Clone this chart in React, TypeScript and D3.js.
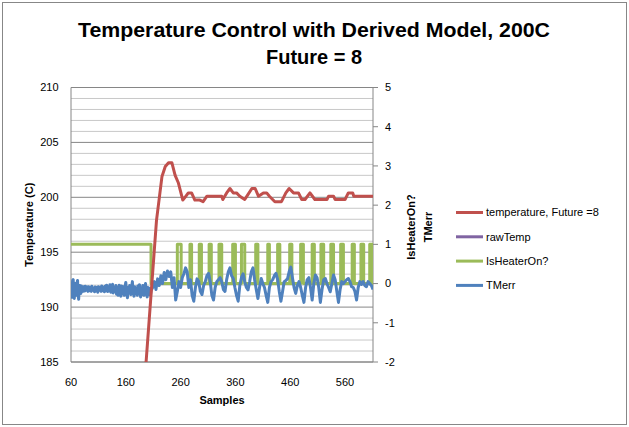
import React from 'react';
import * as d3 from 'd3';

// temperature, Future = 8 : [sample, degC] (left axis)
const temperature: [number, number][] = [
  [186, 181], [197, 185], [216, 197.9], [226, 201.9], [232, 202.8], [238, 203.15],
  [244, 203.15], [250, 202.0], [256, 201.3], [264, 199.75], [268, 200.0], [274, 200.4],
  [280, 200.4], [286, 199.75], [295, 199.75], [301, 199.6], [308, 200.1], [335, 200.1],
  [337, 199.8], [344, 200.4], [350, 200.8], [356, 200.4], [362, 200.4], [368, 200.1],
  [377, 199.8], [381, 200.1], [390, 200.8], [396, 200.8], [402, 200.1], [411, 200.4],
  [417, 200.4], [422, 200.1], [432, 199.6], [444, 199.6], [452, 200.4], [458, 200.8],
  [466, 200.4], [475, 200.4], [481, 199.8], [487, 199.8], [496, 200.4], [505, 199.8],
  [527, 199.8], [530, 200.1], [539, 200.1], [542, 199.8], [560, 199.8], [566, 200.4],
  [574, 200.4], [576, 200.1], [611, 200.1],
];

// IsHeaterOn? : [sample, state] at every switch (right axis)
const heaterSteps: [number, number][] = [
  [60, 1], [206, 0], [254, 1], [261, 0], [277, 1], [280, 0], [294, 1], [298, 0],
  [312, 1], [316, 0], [330, 1], [335, 0], [355, 1], [360, 0], [371, 1], [377, 0],
  [397, 1], [401, 0], [419, 1], [422, 0], [437, 1], [441, 0], [459, 1], [463, 0],
  [479, 1], [484, 0], [500, 1], [504, 0], [516, 1], [521, 0], [534, 1], [539, 0],
  [552, 1], [557, 0], [573, 1], [577, 0], [589, 1], [594, 0], [605, 1], [610, 0], [611, 0],
];

// TMerr : [sample, error] (right axis)
const tmErr: [number, number][] = [
  [60, 0.05], [61, -0.3], [62, -0.35], [63, 0.08], [64, 0.1], [65, -0.2], [66, -0.38],
  [67, -0.1], [68, 0.0], [69, -0.25], [70, -0.3], [71, 0.02], [72, 0.08], [73, -0.3],
  [74, -0.4], [75, -0.1], [76, -0.05], [77, -0.22], [78, -0.25], [79, -0.06], [80, -0.1],
  [82, -0.2], [83, -0.08], [85, -0.19], [86, -0.07], [88, -0.17], [89, -0.09], [91, -0.2],
  [92, -0.08], [94, -0.18], [95, -0.1], [97, -0.2], [98, -0.07], [100, -0.17], [101, -0.11],
  [103, -0.21], [104, -0.09], [106, -0.19], [107, -0.1], [109, -0.22], [110, -0.08],
  [112, -0.17], [113, -0.1], [115, -0.2], [116, -0.06], [118, -0.18], [119, -0.1],
  [121, -0.21], [122, -0.07], [124, -0.18], [125, -0.04], [127, -0.2], [128, -0.08],
  [130, -0.19], [131, -0.03], [133, -0.22], [134, -0.1], [136, -0.02], [137, -0.24],
  [139, -0.12], [140, -0.2], [142, -0.05], [143, -0.27], [145, -0.1], [146, -0.3],
  [148, -0.04], [149, -0.2], [151, -0.32], [152, -0.06], [154, -0.25], [155, -0.08],
  [157, -0.3], [158, -0.12], [160, 0.03], [161, -0.2], [163, -0.36], [164, -0.1],
  [166, -0.22], [167, -0.05], [169, -0.28], [170, -0.14], [172, 0.05], [173, -0.2],
  [175, -0.32], [176, -0.08], [178, -0.26], [179, -0.12], [181, -0.3], [182, -0.06],
  [184, -0.2], [185, -0.03], [187, -0.34], [188, -0.12], [190, -0.28], [191, -0.05],
  [193, -0.3], [194, -0.14], [196, 0.0], [197, -0.22], [199, -0.34], [200, -0.1],
  [202, -0.28], [203, -0.12], [205, -0.3], [206, -0.18], [209, -0.1], [212, 0.05],
  [215, -0.15], [218, 0.12], [221, -0.05], [224, 0.2], [227, 0.0], [230, 0.28],
  [233, 0.1], [236, 0.32], [239, 0.18], [242, 0.3], [245, -0.1], [248, 0.15],
  [251, -0.42], [254, -0.2], [257, 0.05], [260, -0.1], [263, 0.15], [266, 0.25],
  [269, 0.4], [272, 0.3], [275, -0.1], [278, 0.1], [281, -0.3], [284, -0.45],
  [287, -0.1], [290, 0.12], [293, 0.05], [296, -0.2], [299, -0.28], [302, -0.05],
  [305, 0.05], [308, 0.2], [311, 0.26], [314, 0.05], [317, -0.3], [320, -0.42],
  [323, -0.1], [326, 0.05], [329, 0.1], [332, 0.15], [335, 0.05], [338, -0.15],
  [341, -0.2], [344, 0.1], [347, 0.3], [350, 0.4], [353, 0.2], [356, 0.13], [359, -0.1],
  [362, -0.3], [365, -0.45], [368, -0.05], [371, 0.15], [374, 0.25], [377, 0.05],
  [380, -0.1], [383, -0.16], [386, 0.05], [389, 0.3], [392, 0.4], [395, 0.1],
  [398, -0.15], [401, -0.38], [404, -0.1], [407, 0.13], [410, 0.0], [413, -0.1],
  [416, -0.3], [419, -0.48], [422, -0.1], [425, 0.05], [428, 0.1], [431, 0.2],
  [434, 0.26], [437, 0.1], [440, -0.2], [443, -0.45], [446, -0.2], [449, 0.05],
  [452, 0.08], [455, 0.12], [458, 0.3], [461, 0.42], [464, 0.15], [467, -0.1],
  [470, -0.25], [473, -0.05], [476, 0.05], [479, -0.1], [482, -0.3], [485, -0.48],
  [488, -0.1], [491, 0.1], [494, 0.15], [497, -0.1], [500, -0.42], [503, 0.0],
  [506, 0.22], [509, 0.15], [512, -0.1], [515, -0.48], [518, -0.15], [521, 0.1],
  [524, 0.13], [527, 0.0], [530, -0.1], [533, -0.21], [536, 0.0], [539, 0.22],
  [542, 0.1], [545, -0.2], [548, -0.48], [551, -0.15], [554, 0.05], [557, 0.0],
  [560, 0.05], [563, 0.1], [566, 0.13], [569, 0.05], [572, -0.08], [575, -0.1],
  [578, -0.2], [581, -0.42], [584, -0.1], [587, 0.05], [590, -0.02], [593, 0.05],
  [596, -0.05], [599, -0.08], [602, 0.05], [605, 0.0], [608, -0.05], [611, -0.15],
];

const xTicks = [60, 160, 260, 360, 460, 560];
const leftTicks = [185, 190, 195, 200, 205, 210];
const leftMinor = d3.range(185, 211, 1);
const rightTicks = [-2, -1, 0, 1, 2, 3, 4, 5];
const legendItems = [
  { name: 'temperature, Future =8', color: '#C0504D' },
  { name: 'rawTemp', color: '#8064A2' },
  { name: 'IsHeaterOn?', color: '#9BBB59' },
  { name: 'TMerr', color: '#4F81BD' },
];

const W = 629;
const H = 427;
const plot = { left: 71, right: 373, top: 87.5, bottom: 362 };
const font = '"Liberation Sans", Arial, sans-serif';

export default function App() {
  const x = d3.scaleLinear().domain([60, 611]).range([plot.left, plot.right]);
  const yL = d3.scaleLinear().domain([185, 210]).range([plot.bottom, plot.top]);
  const yR = d3.scaleLinear().domain([-2, 5]).range([plot.bottom, plot.top]);

  const tempLine = d3.line<[number, number]>().x(d => x(d[0])).y(d => yL(d[1]));
  const heaterLine = d3.line<[number, number]>().x(d => x(d[0])).y(d => yR(d[1])).curve(d3.curveStepAfter);
  const errLine = d3.line<[number, number]>().x(d => x(d[0])).y(d => yR(d[1]));

  return (
    <svg width={W} height={H} style={{ position: 'absolute', left: 0, top: 0, background: '#fff' }} fontFamily={font}>
      <defs>
        <clipPath id="plotClip">
          <rect x={plot.left} y={plot.top} width={plot.right - plot.left} height={plot.bottom - plot.top} />
        </clipPath>
      </defs>
      <rect x={2.5} y={2.5} width={W - 5} height={H - 5} fill="#fff" stroke="#878787" />

      <text x={314} y={37} textAnchor="middle" fontSize={20} fontWeight="bold" textLength={472} lengthAdjust="spacingAndGlyphs">
        Temperature Control with Derived Model, 200C
      </text>
      <text x={314} y={64} textAnchor="middle" fontSize={20} fontWeight="bold" textLength={96} lengthAdjust="spacingAndGlyphs">Future = 8</text>

      {/* gridlines */}
      {leftMinor.map(v => (
        <line key={'g' + v} x1={plot.left} x2={plot.right} y1={yL(v)} y2={yL(v)}
          stroke={v % 5 === 0 ? '#868686' : '#c8c8c8'} strokeWidth={1} />
      ))}
      <line x1={plot.left} x2={plot.left} y1={plot.top} y2={plot.bottom} stroke="#868686" />
      <line x1={plot.right} x2={plot.right} y1={plot.top} y2={plot.bottom} stroke="#868686" />
      <line x1={plot.left} x2={plot.right} y1={plot.bottom} y2={plot.bottom} stroke="#868686" />

      {/* left axis */}
      {leftTicks.map(v => (
        <text key={'l' + v} x={58.5} y={yL(v)} dy="0.35em" textAnchor="end" fontSize={11}>{v}</text>
      ))}
      <text transform={`translate(33,${(plot.top + plot.bottom) / 2}) rotate(-90)`} textAnchor="middle" fontSize={11} fontWeight="bold">
        Temperature (C)
      </text>

      {/* right axis */}
      {rightTicks.map(v => (
        <g key={'r' + v}>
          <line x1={plot.right} x2={plot.right + 5} y1={yR(v)} y2={yR(v)} stroke="#868686" />
          <text x={385} y={yR(v)} dy="0.35em" fontSize={11}>{v}</text>
        </g>
      ))}
      <text transform={`translate(415,227) rotate(-90)`} textAnchor="middle" fontSize={11} fontWeight="bold">IsHeaterOn?</text>
      <text transform={`translate(432,227) rotate(-90)`} textAnchor="middle" fontSize={11} fontWeight="bold">TMerr</text>

      {/* x axis */}
      {xTicks.map(v => (
        <text key={'x' + v} x={x(v)} y={382} dy="0.35em" textAnchor="middle" fontSize={11}>{v}</text>
      ))}
      <text x={(plot.left + plot.right) / 2} y={400} dy="0.35em" textAnchor="middle" fontSize={11} fontWeight="bold">Samples</text>

      {/* series */}
      <g clipPath="url(#plotClip)" fill="none" strokeWidth={3} strokeLinejoin="round">
        <path d={heaterLine(heaterSteps) || ''} stroke="#9BBB59" />
        <path d={errLine(tmErr) || ''} stroke="#4F81BD" />
        <path d={tempLine(temperature) || ''} stroke="#C0504D" />
      </g>

      {/* legend */}
      {legendItems.map((it, i) => {
        const ly = 212.5 + i * 24.3;
        return (
          <g key={it.name}>
            <line x1={456} x2={483} y1={ly} y2={ly} stroke={it.color} strokeWidth={3} />
            <text x={486} y={ly} dy="0.35em" fontSize={11}>{it.name}</text>
          </g>
        );
      })}
    </svg>
  );
}
